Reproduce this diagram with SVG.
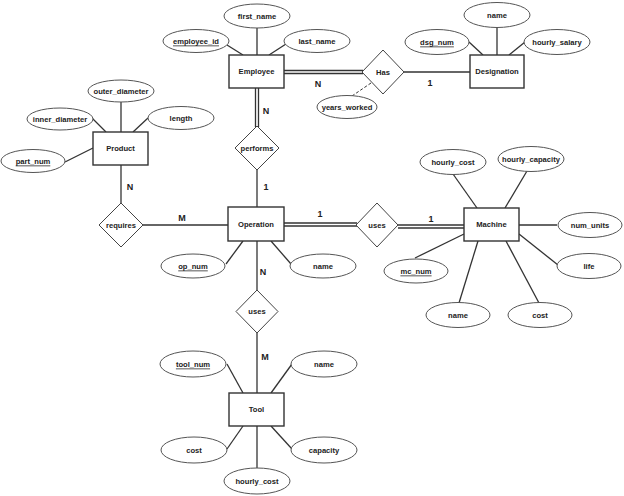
<svg xmlns="http://www.w3.org/2000/svg" width="624" height="496" viewBox="0 0 624 496">
<style>
text{font-family:"Liberation Sans",Arial,sans-serif;font-size:7.6px;font-weight:bold;fill:#222;text-anchor:middle;dominant-baseline:central}
.key{text-decoration:underline}
.card{font-size:9px}
rect.ent{fill:#fff;stroke:#333;stroke-width:1.4}
ellipse{fill:#fff;stroke:#555;stroke-width:1}
polygon.rel{fill:#fff;stroke:#444;stroke-width:1}
#connectors line,#connectors path{stroke:#333;stroke-width:1.3;fill:none}
#connectors .dash{stroke-dasharray:3,2;stroke-width:1}
</style>
<rect width="624" height="496" fill="#fff"/>
<g id="connectors">
<line x1="257" y1="28" x2="257" y2="55"/>
<line x1="227" y1="45" x2="243" y2="55"/>
<line x1="286" y1="44" x2="269" y2="55"/>
<line x1="284" y1="70.5" x2="363" y2="70.5"/>
<line x1="284" y1="73.5" x2="363" y2="73.5"/>
<line x1="404" y1="72" x2="470" y2="72"/>
<line class="dash" x1="371" y1="83" x2="352" y2="96"/>
<line x1="497" y1="27" x2="497" y2="55"/>
<line x1="469" y1="42" x2="483" y2="55"/>
<line x1="525" y1="42" x2="509" y2="55"/>
<line x1="255.5" y1="88" x2="255.5" y2="127"/>
<line x1="258.5" y1="88" x2="258.5" y2="127"/>
<line x1="257" y1="170" x2="257" y2="207"/>
<line x1="121" y1="102" x2="121" y2="132"/>
<line x1="92" y1="118" x2="106" y2="132"/>
<line x1="148" y1="118" x2="133" y2="132"/>
<line x1="65" y1="162" x2="93" y2="148"/>
<line x1="121" y1="165" x2="121" y2="203"/>
<line x1="143" y1="225" x2="228" y2="225"/>
<line x1="284" y1="223" x2="357" y2="223"/>
<line x1="284" y1="226" x2="357" y2="226"/>
<line x1="398" y1="225" x2="464" y2="225"/>
<line x1="398" y1="228" x2="464" y2="228"/>
<line x1="226" y1="264" x2="243" y2="241"/>
<line x1="291" y1="264" x2="271" y2="241"/>
<line x1="257" y1="241" x2="257" y2="290"/>
<line x1="257" y1="333" x2="257" y2="393"/>
<line x1="453" y1="174" x2="477" y2="208"/>
<line x1="527" y1="171" x2="505" y2="208"/>
<line x1="519" y1="225" x2="557" y2="225"/>
<line x1="519" y1="234" x2="558" y2="265"/>
<line x1="415" y1="258" x2="464" y2="234"/>
<line x1="459" y1="303" x2="478" y2="241"/>
<line x1="539" y1="303" x2="506" y2="241"/>
<line x1="227" y1="364" x2="243" y2="393"/>
<line x1="292" y1="364" x2="271" y2="393"/>
<line x1="227" y1="449" x2="243" y2="426"/>
<line x1="292" y1="449" x2="271" y2="426"/>
<line x1="257" y1="426" x2="257" y2="468"/>
</g>
<g id="cardinalities">
<text class="card" x="318" y="84">N</text>
<text class="card" x="430" y="83">1</text>
<text class="card" x="266" y="111">N</text>
<text class="card" x="266" y="187">1</text>
<text class="card" x="130" y="187">N</text>
<text class="card" x="182" y="218">M</text>
<text class="card" x="320" y="214">1</text>
<text class="card" x="431" y="219">1</text>
<text class="card" x="263" y="272">N</text>
<text class="card" x="265" y="357">M</text>
</g>
<g id="employee">
<rect class="ent" x="229" y="55" width="55" height="33"/>
<text x="256.5" y="71.5">Employee</text>
</g>
<g id="employee_id"><ellipse cx="196" cy="41" rx="33" ry="11.5"/><text class="key" x="196" y="41">employee_id</text></g>
<g id="first_name"><ellipse cx="257" cy="16" rx="33" ry="12"/><text x="257" y="16">first_name</text></g>
<g id="last_name"><ellipse cx="317" cy="41" rx="33" ry="11.5"/><text x="317" y="41">last_name</text></g>
<g id="has">
<polygon class="rel" points="383,50 404,72 383,94 362,72"/>
<text x="383" y="72">Has</text>
</g>
<g id="years_worked"><ellipse cx="347" cy="107" rx="30" ry="11.5"/><text x="347" y="107">years_worked</text></g>
<g id="designation">
<rect class="ent" x="470" y="55" width="54" height="33"/>
<text x="497" y="71.5">Designation</text>
</g>
<g id="dsg_num"><ellipse cx="437" cy="42" rx="32" ry="12.5"/><text class="key" x="437" y="42">dsg_num</text></g>
<g id="dsg_name"><ellipse cx="497" cy="15" rx="33" ry="12.5"/><text x="497" y="15">name</text></g>
<g id="hourly_salary"><ellipse cx="557" cy="42" rx="33" ry="12.5"/><text x="557" y="42">hourly_salary</text></g>
<g id="product">
<rect class="ent" x="93" y="132" width="55" height="33"/>
<text x="120.5" y="148.5">Product</text>
</g>
<g id="outer_diameter"><ellipse cx="121" cy="91" rx="33" ry="11"/><text x="121" y="91">outer_diameter</text></g>
<g id="inner_diameter"><ellipse cx="60" cy="119" rx="33" ry="11"/><text x="60" y="119">inner_diameter</text></g>
<g id="length"><ellipse cx="181" cy="118" rx="33" ry="11.5"/><text x="181" y="118">length</text></g>
<g id="part_num"><ellipse cx="33" cy="161" rx="32" ry="11.5"/><text class="key" x="33" y="161">part_num</text></g>
<g id="requires">
<polygon class="rel" points="121,203 143,225 121,247 99,225"/>
<text x="121" y="225">requires</text>
</g>
<g id="performs">
<polygon class="rel" points="257,126 279,148 257,170 235,148"/>
<text x="257" y="148">performs</text>
</g>
<g id="operation">
<rect class="ent" x="228" y="207" width="56" height="34"/>
<text x="256" y="224">Operation</text>
</g>
<g id="op_num"><ellipse cx="193" cy="266" rx="32" ry="12"/><text class="key" x="193" y="266">op_num</text></g>
<g id="op_name"><ellipse cx="323" cy="266" rx="33" ry="12"/><text x="323" y="266">name</text></g>
<g id="uses_machine">
<polygon class="rel" points="377,203 398,225 377,247 356,225"/>
<text x="377" y="225">uses</text>
</g>
<g id="machine">
<rect class="ent" x="464" y="208" width="55" height="33"/>
<text x="491.5" y="224.5">Machine</text>
</g>
<g id="hourly_cost_m"><ellipse cx="453" cy="162" rx="33" ry="12.5"/><text x="453" y="162">hourly_cost</text></g>
<g id="hourly_capacity"><ellipse cx="531" cy="159" rx="33" ry="12.5"/><text x="531" y="159">hourly_capacity</text></g>
<g id="num_units"><ellipse cx="590" cy="225" rx="32" ry="12.5"/><text x="590" y="225">num_units</text></g>
<g id="life"><ellipse cx="589" cy="266" rx="32" ry="12.5"/><text x="589" y="266">life</text></g>
<g id="mc_num"><ellipse cx="416" cy="271" rx="32" ry="12"/><text class="key" x="416" y="271">mc_num</text></g>
<g id="mc_name"><ellipse cx="458" cy="315" rx="32" ry="12.5"/><text x="458" y="315">name</text></g>
<g id="mc_cost"><ellipse cx="540" cy="315" rx="32" ry="12.5"/><text x="540" y="315">cost</text></g>
<g id="uses_tool">
<polygon class="rel" points="257,290 278,311.5 257,333 236,311.5"/>
<text x="257" y="311.5">uses</text>
</g>
<g id="tool">
<rect class="ent" x="229" y="393" width="55" height="33"/>
<text x="256.5" y="409.5">Tool</text>
</g>
<g id="tool_num"><ellipse cx="193" cy="364" rx="33" ry="13"/><text class="key" x="193" y="364">tool_num</text></g>
<g id="tool_name"><ellipse cx="324" cy="364" rx="33" ry="13"/><text x="324" y="364">name</text></g>
<g id="tool_cost"><ellipse cx="194" cy="450" rx="33" ry="13"/><text x="194" y="450">cost</text></g>
<g id="capacity"><ellipse cx="324" cy="450" rx="33" ry="13"/><text x="324" y="450">capacity</text></g>
<g id="tool_hourly_cost"><ellipse cx="257" cy="481" rx="33" ry="13"/><text x="257" y="481">hourly_cost</text></g>
</svg>
